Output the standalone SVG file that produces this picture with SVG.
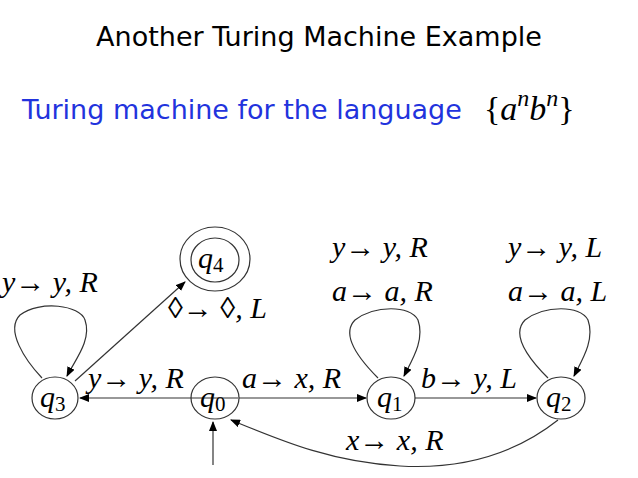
<svg xmlns="http://www.w3.org/2000/svg" width="638" height="478" viewBox="0 0 638 478">
<style>
.n{fill:none;stroke:#333;stroke-width:1.2}
.e{fill:none;stroke:#333;stroke-width:1.2}
.l{font-family:"Liberation Serif",serif;font-style:italic;font-size:30px;fill:#000}
.s{font-size:21px;font-style:normal}
.h{font-family:"DejaVu Sans",sans-serif;font-size:27px}
</style>
<defs><marker id="a" markerWidth="10" markerHeight="8" refX="9" refY="4" orient="auto" markerUnits="userSpaceOnUse"><path d="M0,0L10,4L0,8z" fill="#000"/></marker></defs>
<rect width="638" height="478" fill="#fff"/>
<text x="319" y="46" text-anchor="middle" class="h" fill="#000">Another Turing Machine Example</text>
<text x="22" y="119" class="h" fill="#2233dd" font-size="23.5">Turing machine for the language</text>
<text x="484" y="120" class="l" style="font-style:normal;font-size:34px">{<tspan font-style="italic">a</tspan><tspan font-style="italic" dy="-14" font-size="24">n</tspan><tspan font-style="italic" dy="14">b</tspan><tspan font-style="italic" dy="-14" font-size="24">n</tspan><tspan dy="14">}</tspan></text>
<g id="connectors">
<path class="e" d="M238,398H80" marker-end="url(#a)"/>
<path class="e" d="M239,398H366" marker-end="url(#a)"/>
<path class="e" d="M415,398H536" marker-end="url(#a)"/>
<path class="e" d="M75,381L185,282" marker-end="url(#a)"/>
<path class="e" d="M213,465V422" marker-end="url(#a)"/>
<path class="e" d="M558,420C520,450 470,470 400,466C330,462 280,440 231,420" marker-end="url(#a)"/>
<path class="e" d="M42,378C25,360 5,330 20,315C40,300 80,305 85,320C92,340 75,360 67,376" marker-end="url(#a)"/>
<path class="e" d="M378,378C360,360 340,335 355,320C375,305 410,305 418,320C425,340 412,360 404,376" marker-end="url(#a)"/>
<path class="e" d="M548,378C530,360 510,335 525,320C545,305 580,305 588,320C595,340 582,360 574,376" marker-end="url(#a)"/>
</g>
<g id="q3"><ellipse class="n" cx="55" cy="398" rx="23" ry="21"/><text class="l" x="40" y="407">q<tspan class="s" dy="4">3</tspan></text></g>
<g id="q0"><ellipse class="n" cx="215" cy="398" rx="24" ry="21"/><text class="l" x="200" y="407">q<tspan class="s" dy="4">0</tspan></text></g>
<g id="q1"><ellipse class="n" cx="391" cy="398" rx="24" ry="21"/><text class="l" x="377" y="407">q<tspan class="s" dy="4">1</tspan></text></g>
<g id="q2"><ellipse class="n" cx="561" cy="398" rx="24" ry="21"/><text class="l" x="546" y="407">q<tspan class="s" dy="4">2</tspan></text></g>
<g id="q4"><ellipse class="n" cx="215" cy="259" rx="35" ry="32"/><ellipse class="n" cx="215" cy="260" rx="24" ry="22"/><text class="l" x="198" y="268">q<tspan class="s" dy="4">4</tspan></text></g>
<g class="l" xml:space="preserve">
<text x="2" y="292">y→  y, R</text>
<text x="168" y="318">◊→  ◊, L</text>
<text x="88" y="388">y→  y, R</text>
<text x="242" y="388">a→  x, R</text>
<text x="332" y="257">y→  y, R</text>
<text x="332" y="301">a→  a, R</text>
<text x="421" y="388">b→  y, L</text>
<text x="508" y="257">y→  y, L</text>
<text x="508" y="301">a→  a, L</text>
<text x="346" y="450">x→  x, R</text>
</g>
</svg>
